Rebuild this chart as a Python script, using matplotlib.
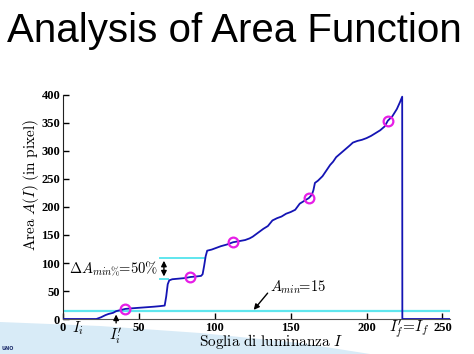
import matplotlib
matplotlib.use("Agg")
import matplotlib.pyplot as plt
from matplotlib.patches import Polygon

plt.rcParams['mathtext.fontset'] = 'cm'

# area function A(I)
soglia = [0, 22, 25, 28, 30, 33, 35, 38, 41, 45, 50, 55, 60, 64, 67, 68, 69, 70,
          72, 76, 80, 84, 88, 91, 92, 93, 94, 95, 98, 101, 104, 108, 112, 116,
          120, 123, 125, 128, 132, 135, 138, 141, 144, 147, 150, 153, 156, 159,
          162, 164, 165, 166, 168, 171, 174, 176, 178, 180, 183, 186, 189, 191,
          194, 197, 200, 203, 206, 209, 212, 214, 217, 220, 222, 223.5, 223.6, 255]
area = [0, 0, 3, 7, 9, 11, 14, 16, 18, 19, 20, 21, 22, 23, 24, 40, 62, 69,
        71, 72, 73, 75, 76, 77, 80, 95, 112, 122, 124, 127, 130, 133, 137, 139,
        141, 144, 147, 153, 161, 166, 176, 180, 183, 188, 191, 195, 206, 211,
        216, 222, 230, 243, 247, 255, 267, 275, 281, 289, 296, 303, 310, 315,
        318, 320, 323, 327, 332, 337, 344, 354, 362, 375, 387, 397, 0, 0]

# sampled points (magenta circles)
punti_x = [41, 84, 112, 162, 214]
punti_y = [18, 75, 137, 216, 354]

a_min = 15
delta_low = 71
delta_high = 109

fig = plt.figure(figsize=(4.74, 3.54), dpi=100)

# slide background swoosh
swoosh = Polygon([(0, 0), (0, 32 / 354), (100 / 474, 28 / 354), (200 / 474, 21 / 354),
                  (300 / 474, 11 / 354), (370 / 474, 0)],
                 closed=True, transform=fig.transFigure, facecolor='#d8ebf7',
                 edgecolor='none', zorder=0)
fig.add_artist(swoosh)
fig.text(2 / 474, 4 / 354, 'UNO', fontsize=3.5, color='#1a2a6a', weight='bold')

fig.text(7 / 474, 1 - 42 / 354, 'Analysis of Area Function', fontsize=29,
         family='Liberation Sans', va='baseline')

ax = fig.add_axes([63 / 474, 35 / 354, 387 / 474, 224 / 354])
ax.patch.set_alpha(0)
ax.set_xlim(0, 255)
ax.set_ylim(0, 400)

ax.axhline(a_min, color='#5fe6ee', lw=1.6, zorder=1)
ax.plot([64, 69], [delta_low, delta_low], color='#5fe6ee', lw=1.4)
ax.plot([64, 93], [delta_high, delta_high], color='#5fe6ee', lw=1.4)

ax.plot(soglia, area, color='#1414b4', lw=1.3, zorder=3)
ax.plot(punti_x, punti_y, 'o', ms=7, mfc='none', mec='#e61ee6', mew=1.6, zorder=4)

ax.annotate('', xy=(66.5, delta_high), xytext=(66.5, delta_low),
            arrowprops=dict(arrowstyle='<|-|>', color='black', lw=1, mutation_scale=8))
ax.text(62.5, 88, r'$\Delta A_{min\%}\!\!=\!50\%$', fontsize=10.5, ha='right', va='center')

ax.annotate('', xy=(124.5, 12.5), xytext=(136, 50),
            arrowprops=dict(arrowstyle='-|>', color='black', lw=1, mutation_scale=8))
ax.text(136.5, 57, r'$A_{min}\!\!=\!15$', fontsize=10.5, ha='left', va='center')

ax.annotate('', xy=(35, 13), xytext=(35, -12), annotation_clip=False,
            arrowprops=dict(arrowstyle='-|>', color='black', lw=1, mutation_scale=8))
ax.text(10, -16, r'$I_i$', fontsize=11, ha='center', va='center', clip_on=False)
ax.text(35, -30, r"$I_i'$", fontsize=11, ha='center', va='center', clip_on=False)
ax.text(228, -16, r"$I_f'\!=\!I_f$", fontsize=11, ha='center', va='center', clip_on=False)

ax.text(137, -41, r'$\mathrm{Soglia\ di\ luminanza}\ I$', fontsize=11,
        ha='center', va='center', clip_on=False)
ax.text(-21, 239, r'$\mathrm{Area}\ A(I)\ \mathrm{(in\ pixel)}$', fontsize=11,
        rotation=90, ha='center', va='center', clip_on=False)

ax.set_xticks([0, 50, 100, 150, 200, 250])
ax.set_yticks([0, 50, 100, 150, 200, 250, 300, 350, 400])
ax.tick_params(direction='in', length=4, width=1, labelsize=9, pad=2)
for lab in ax.get_xticklabels() + ax.get_yticklabels():
    lab.set_family('Liberation Serif')
    lab.set_weight('bold')

ax.spines['top'].set_visible(False)
ax.spines['right'].set_visible(False)
ax.spines['left'].set_color('#222222')
ax.spines['bottom'].set_color('#555555')

fig.savefig('out.png', dpi=100)
